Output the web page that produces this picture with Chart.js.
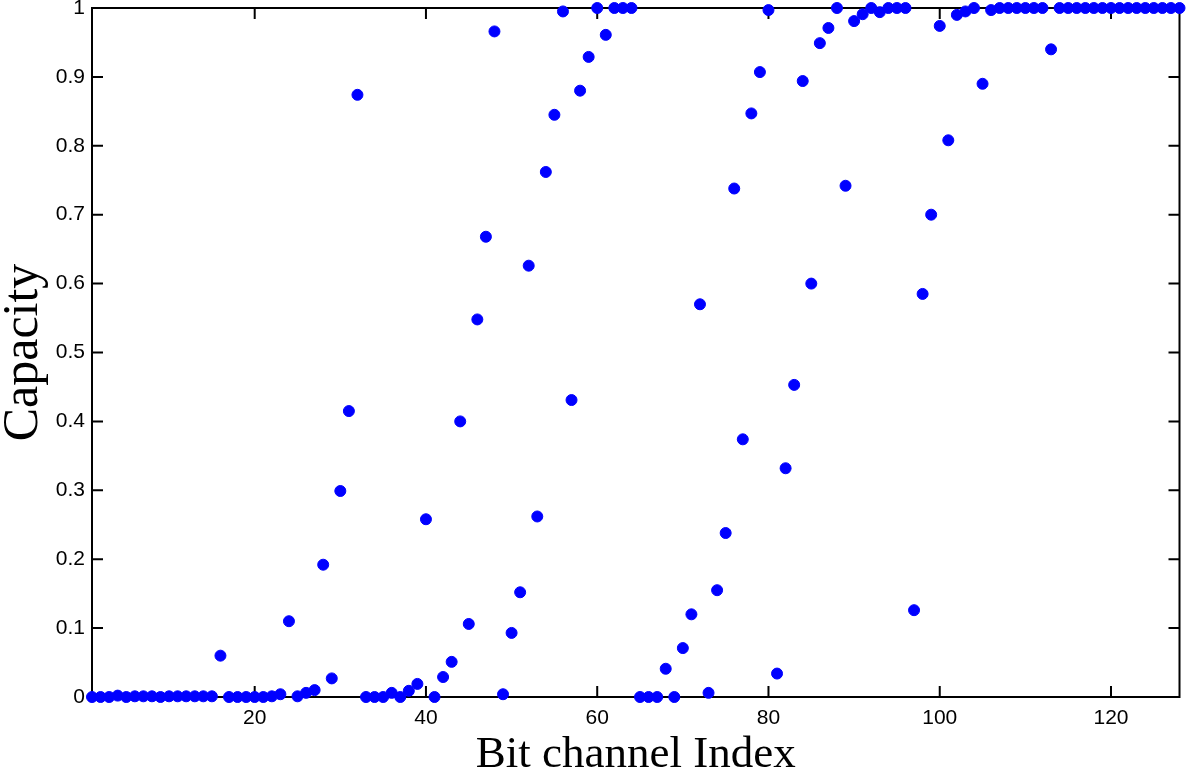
<!DOCTYPE html>
<html>
<head>
<meta charset="utf-8">
<script src="https://cdn.jsdelivr.net/npm/chart.js@4/dist/chart.umd.min.js"></script>
<style>
  html, body { margin: 0; padding: 0; background: #fff; }
  #wrap { width: 1186px; height: 774px; }
</style>
</head>
<body>
<div id="wrap"><canvas id="chart-capacity" width="1186" height="774"></canvas></div>
<script>
// bit channel index
const channelIndex = [
  1, 2, 3, 4, 5, 6, 7, 8, 9, 10, 11, 12, 13, 14, 15, 16,
  17, 18, 19, 20, 21, 22, 23, 24, 25, 26, 27, 28, 29, 30, 31, 32,
  33, 34, 35, 36, 37, 38, 39, 40, 41, 42, 43, 44, 45, 46, 47, 48,
  49, 50, 51, 52, 53, 54, 55, 56, 57, 58, 59, 60, 61, 62, 63, 64,
  65, 66, 67, 68, 69, 70, 71, 72, 73, 74, 75, 76, 77, 78, 79, 80,
  81, 82, 83, 84, 85, 86, 87, 88, 89, 90, 91, 92, 93, 94, 95, 96,
  97, 98, 99, 100, 101, 102, 103, 104, 105, 106, 107, 108, 109, 110, 111, 112,
  113, 114, 115, 116, 117, 118, 119, 120, 121, 122, 123, 124, 125, 126, 127, 128
];

// capacity of each bit channel
const capacity = [
  0, 0, 0, 0.002, 0, 0.001, 0.001, 0.001, 0, 0.001, 0.001, 0.001, 0.001, 0.001, 0.001, 0.060,
  0, 0, 0, 0, 0, 0.001, 0.004, 0.110, 0.001, 0.006, 0.010, 0.192, 0.027, 0.299, 0.415, 0.874,
  0, 0, 0, 0.006, 0, 0.009, 0.019, 0.258, 0, 0.029, 0.051, 0.400, 0.106, 0.548, 0.668, 0.966,
  0.004, 0.093, 0.152, 0.626, 0.262, 0.762, 0.845, 0.995, 0.431, 0.880, 0.929, 1, 0.961, 1, 1, 1,
  0, 0, 0, 0.041, 0, 0.071, 0.120, 0.570, 0.006, 0.155, 0.238, 0.738, 0.374, 0.847, 0.907, 0.997,
  0.034, 0.332, 0.453, 0.894, 0.600, 0.949, 0.971, 1, 0.742, 0.981, 0.991, 1, 0.994, 1, 1, 1,
  0.126, 0.585, 0.700, 0.974, 0.808, 0.990, 0.995, 1, 0.890, 0.997, 1, 1, 1, 1, 1, 1,
  0.940, 1, 1, 1, 1, 1, 1, 1, 1, 1, 1, 1, 1, 1, 1, 1
];

const xTicks = [20, 40, 60, 80, 100, 120];
const yTicks = [0, 0.1, 0.2, 0.3, 0.4, 0.5, 0.6, 0.7, 0.8, 0.9, 1];

const points = channelIndex.map((v, i) => ({ x: v, y: capacity[i] }));

// matlab style box with inward ticks on all four sides
const boxTicks = {
  id: "boxTicks",
  beforeDatasetsDraw(chart) {
    const { ctx, chartArea: ca, scales } = chart;
    const len = 11;
    ctx.save();
    ctx.strokeStyle = "#000";
    ctx.lineWidth = 2;
    ctx.strokeRect(ca.left, ca.top, ca.right - ca.left, ca.bottom - ca.top);
    ctx.beginPath();
    xTicks.forEach((v) => {
      const px = scales.x.getPixelForValue(v);
      ctx.moveTo(px, ca.bottom);
      ctx.lineTo(px, ca.bottom - len);
      ctx.moveTo(px, ca.top);
      ctx.lineTo(px, ca.top + len);
    });
    yTicks.forEach((v) => {
      const py = scales.y.getPixelForValue(v);
      ctx.moveTo(ca.left, py);
      ctx.lineTo(ca.left + len, py);
      ctx.moveTo(ca.right, py);
      ctx.lineTo(ca.right - len, py);
    });
    ctx.stroke();
    ctx.restore();
  },
};

const tickFont = { family: "'Liberation Sans', Arial, sans-serif", size: 21 };

new Chart(document.getElementById("chart-capacity"), {
  type: "scatter",
  data: {
    datasets: [
      {
        data: points,
        backgroundColor: "rgb(0, 0, 255)",
        borderColor: "rgb(0, 0, 255)",
        pointRadius: 5.5,
        pointHoverRadius: 5.5,
        clip: false,
      },
    ],
  },
  options: {
    responsive: false,
    animation: false,
    layout: { padding: { top: 8, right: 5, left: 0, bottom: 0 } },
    plugins: {
      legend: { display: false },
      tooltip: { enabled: false },
    },
    scales: {
      x: {
        type: "linear",
        min: 1,
        max: 128,
        grid: { display: false, drawTicks: false },
        border: { display: false },
        afterBuildTicks: (scale) => {
          scale.ticks = xTicks.map((v) => ({ value: v }));
        },
        afterFit: (scale) => {
          scale.height = 77;
          scale.paddingLeft = 0;
          scale.paddingRight = 0;
        },
        ticks: {
          color: "#000",
          font: tickFont,
          padding: 9,
          maxRotation: 0,
          autoSkip: false,
          callback: (v) => String(v),
        },
        title: {
          display: true,
          text: "Bit channel Index",
          color: "#000",
          font: { family: "'Liberation Serif', 'Times New Roman', serif", size: 45 },
          padding: { top: 0, bottom: -8 },
        },
      },
      y: {
        type: "linear",
        min: 0,
        max: 1,
        grid: { display: false, drawTicks: false },
        border: { display: false },
        afterBuildTicks: (scale) => {
          scale.ticks = yTicks.map((v) => ({ value: v }));
        },
        afterFit: (scale) => {
          scale.width = 92;
          scale.paddingTop = 0;
          scale.paddingBottom = 0;
        },
        ticks: {
          color: "#000",
          font: tickFont,
          padding: 7,
          autoSkip: false,
          callback: (v) => String(v),
        },
        title: {
          display: true,
          text: "Capacity",
          color: "#000",
          font: { family: "'Liberation Serif', 'Times New Roman', serif", size: 50 },
          padding: { top: -6, bottom: 0 },
        },
      },
    },
  },
  plugins: [boxTicks],
});
</script>
</body>
</html>
